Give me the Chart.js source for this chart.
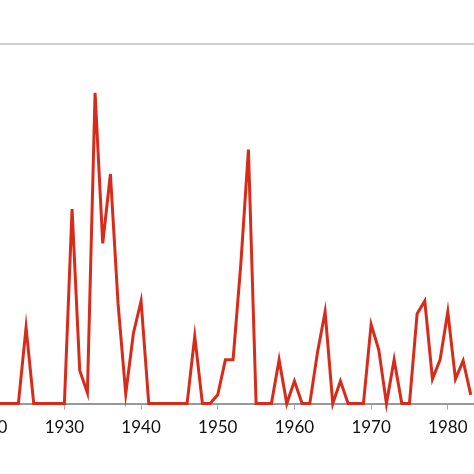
<!DOCTYPE html>
<html>
<head>
<meta charset="utf-8">
<script src="https://cdn.jsdelivr.net/npm/chart.js@4/dist/chart.umd.min.js"></script>
<style>
  html, body { margin: 0; padding: 0; background: #fff; overflow: hidden; }
  #wrap { width: 520px; height: 474px; margin-left: -40px; }
</style>
</head>
<body>
<div id="wrap"><canvas id="chart"></canvas></div>
<script>
// years, one value per year
const years = [
    1921, 1922, 1923, 1924, 1925, 1926, 1927, 1928, 1929, 1930,
    1931, 1932, 1933, 1934, 1935, 1936, 1937, 1938, 1939, 1940,
    1941, 1942, 1943, 1944, 1945, 1946, 1947, 1948, 1949, 1950,
    1951, 1952, 1953, 1954, 1955, 1956, 1957, 1958, 1959, 1960,
    1961, 1962, 1963, 1964, 1965, 1966, 1967, 1968, 1969, 1970,
    1971, 1972, 1973, 1974, 1975, 1976, 1977, 1978, 1979, 1980,
    1981, 1982, 1983
];
const values = [
    0, 0, 0, 0, 78, 0, 0, 0, 0, 0,
    199, 34, 11, 318, 164, 235, 102, 10, 72, 105,
    0, 0, 0, 0, 0, 0, 69, 0, 0, 9,
    45, 45, 142, 260, 0, 0, 0, 45, 0, 23,
    0, 0, 52, 94, 0, 23, 0, 0, 0, 81,
    55, 0, 45, 0, 0, 92, 105, 25, 45, 94,
    25, 44, 9
];
const xTicks = [1920, 1930, 1940, 1950, 1960, 1970, 1980];

new Chart(document.getElementById("chart").getContext("2d"), {
    type: "line",
    data: {
        datasets: [{
            data: years.map((y, i) => ({x: y, y: values[i]})),
            borderColor: "#d92b1a",
            borderWidth: 3,
            pointRadius: 0,
            tension: 0,
            clip: false
        }]
    },
    options: {
        responsive: true,
        maintainAspectRatio: false,
        animation: false,
        layout: {padding: {left: 0, right: 0, top: 44, bottom: 28}},
        plugins: {legend: {display: false}, tooltip: {enabled: false}},
        scales: {
            x: {
                type: "linear",
                min: 1920,
                max: 1984.2,
                afterBuildTicks: axis => { axis.ticks = xTicks.map(v => ({value: v})); },
                grid: {drawOnChartArea: false, color: "#aaa", tickLength: 6, tickWidth: 1},
                border: {color: "#999", width: 2},
                ticks: {
                    color: "#111",
                    font: {family: "Lato", size: 17},
                    padding: 8,
                    maxRotation: 0,
                    callback: v => String(v)
                }
            },
            y: {
                min: 0,
                max: 368,
                afterBuildTicks: axis => { axis.ticks = [{value: 368}]; },
                border: {display: false},
                grid: {color: "#d0d0d0", lineWidth: 2, drawTicks: false},
                ticks: {display: false}
            }
        }
    }
});
</script>
</body>
</html>
